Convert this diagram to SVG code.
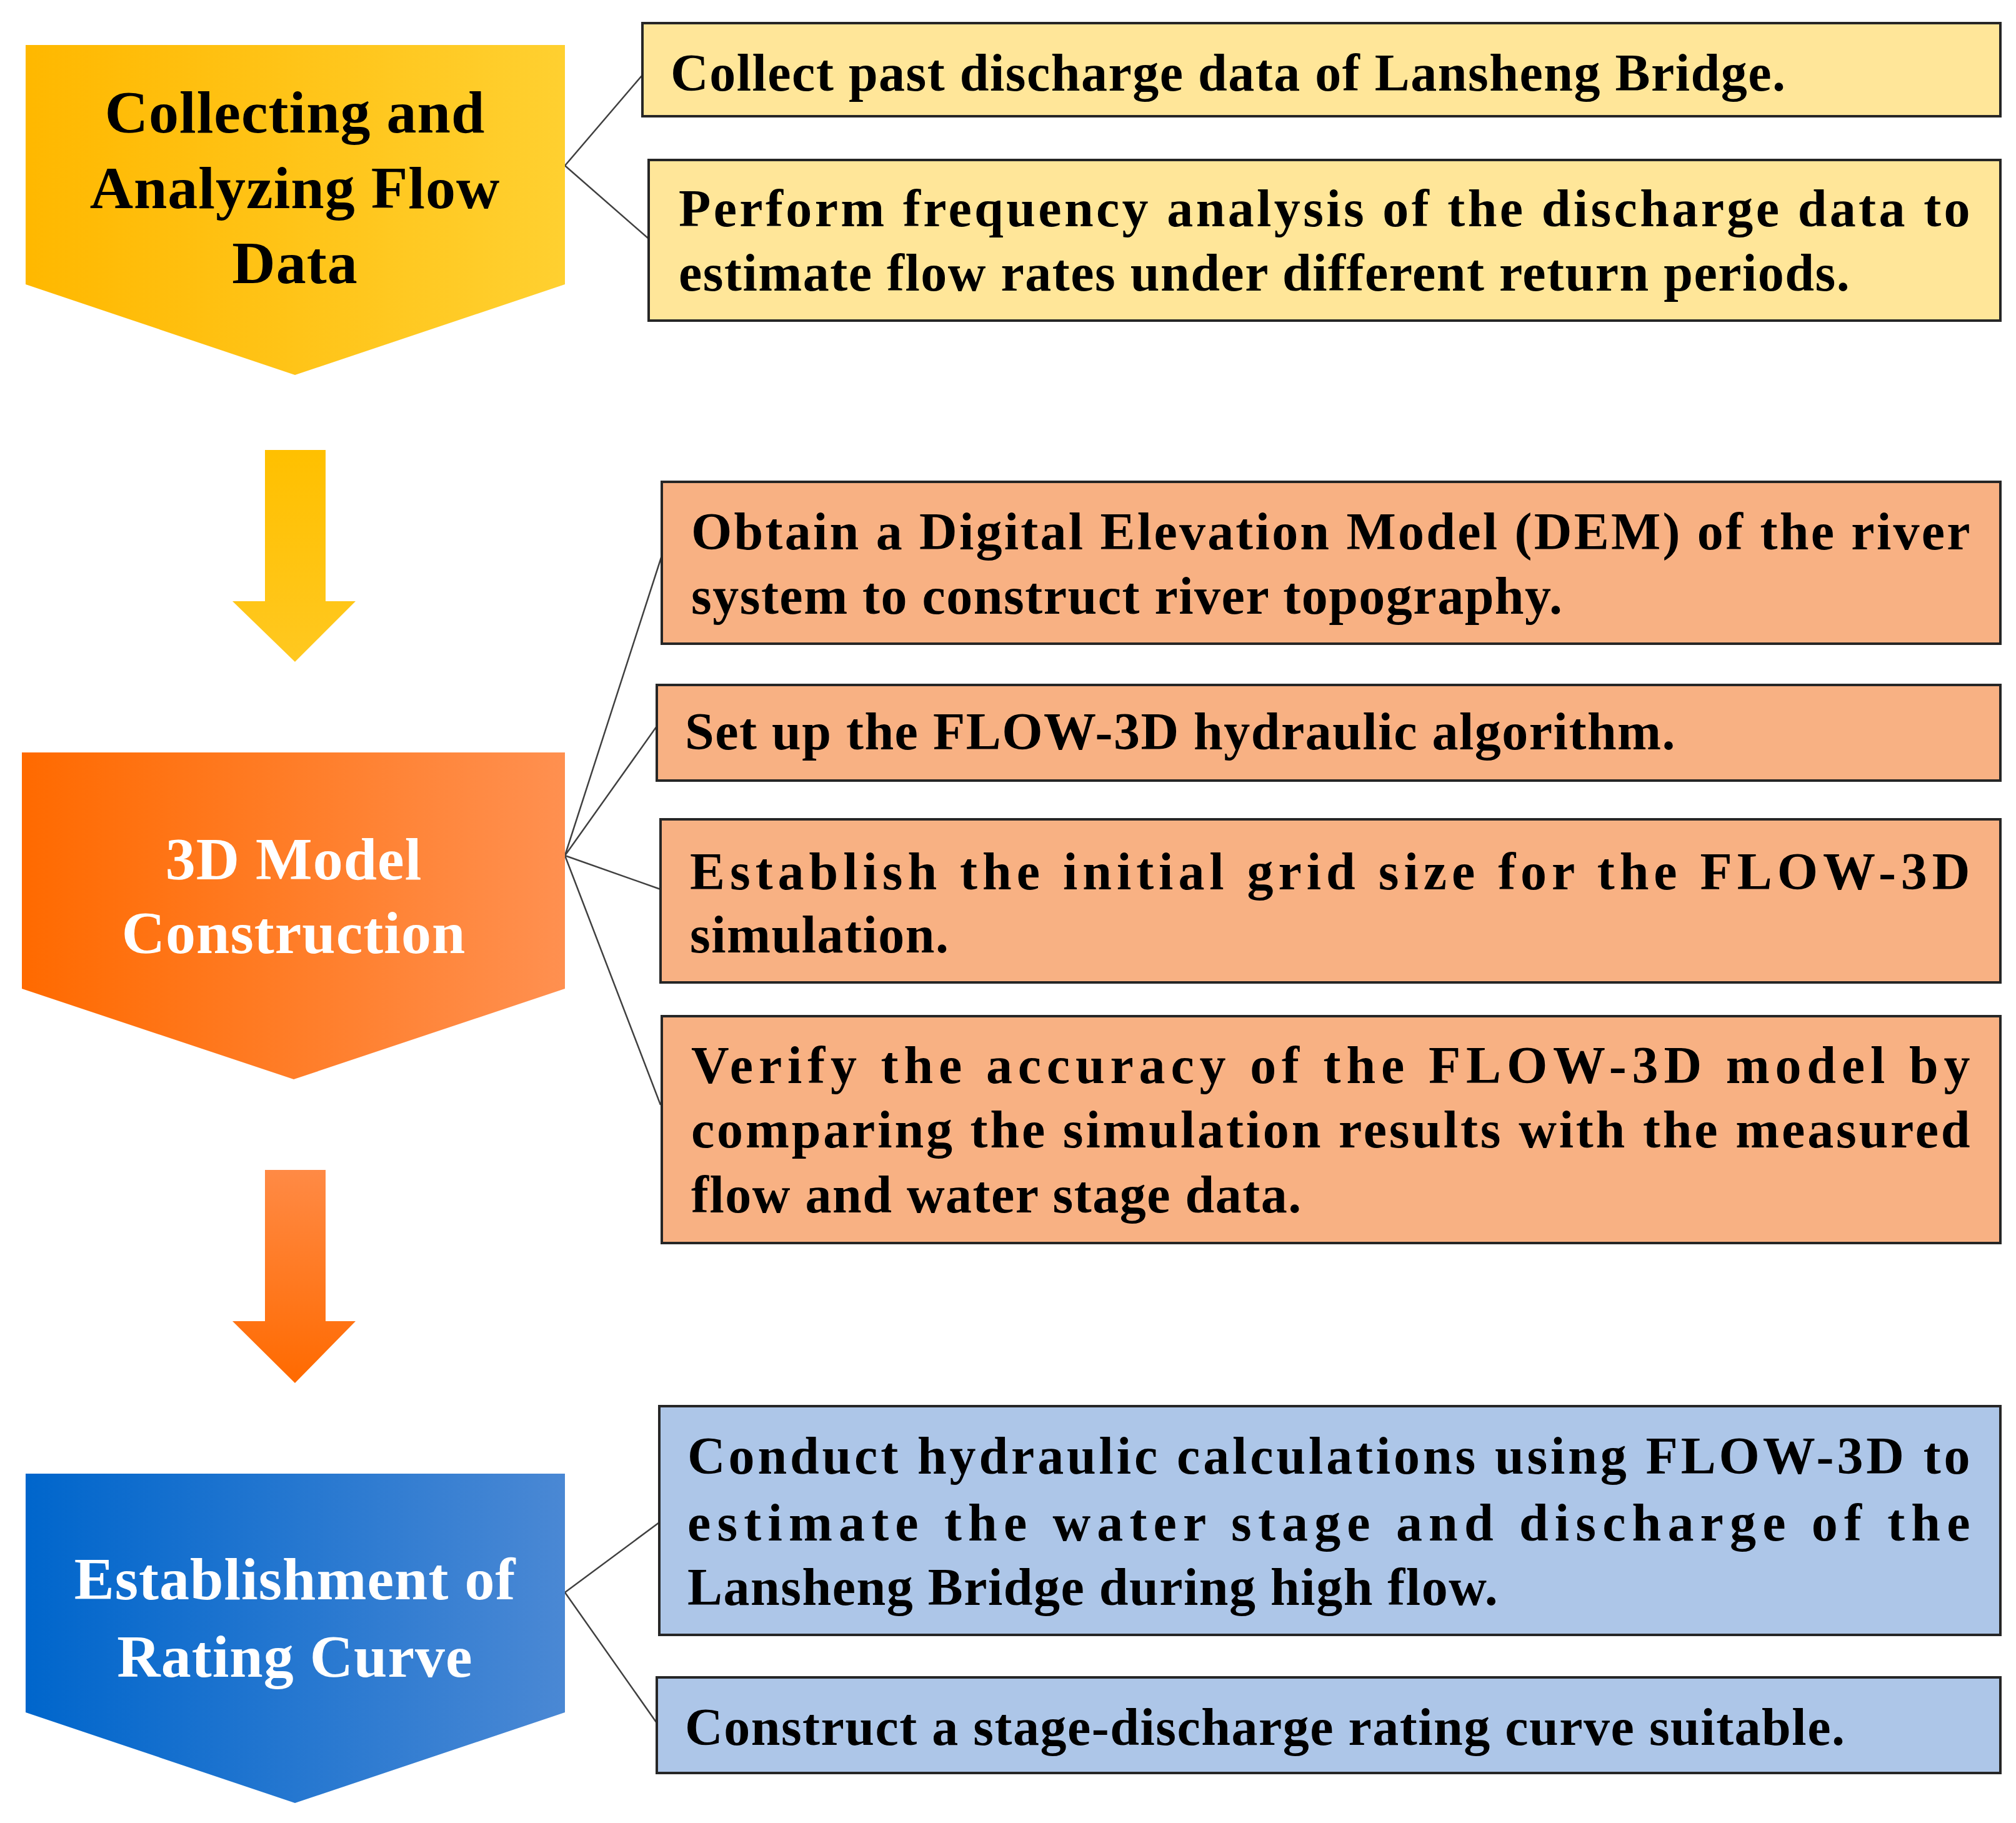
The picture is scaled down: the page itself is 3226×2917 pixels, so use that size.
<svg xmlns="http://www.w3.org/2000/svg" width="3226" height="2917" viewBox="0 0 3226 2917">
<defs>
<linearGradient id="gy" x1="0" y1="0" x2="1" y2="0"><stop offset="0" stop-color="#FFB800"/><stop offset="1" stop-color="#FFD030"/></linearGradient>
<linearGradient id="go" x1="0" y1="0" x2="1" y2="0"><stop offset="0" stop-color="#FF6A00"/><stop offset="1" stop-color="#FF9050"/></linearGradient>
<linearGradient id="gb" x1="0" y1="0" x2="1" y2="0"><stop offset="0" stop-color="#0066CC"/><stop offset="1" stop-color="#4A88D4"/></linearGradient>
<linearGradient id="ay" x1="0" y1="0" x2="0" y2="1"><stop offset="0" stop-color="#FFC000"/><stop offset="1" stop-color="#FFC820"/></linearGradient>
<linearGradient id="ao" x1="0" y1="0" x2="0" y2="1"><stop offset="0" stop-color="#FF8A45"/><stop offset="1" stop-color="#FF6A00"/></linearGradient>
</defs>
<style>
.b{stroke:#262626;stroke-width:4}
.t{font-family:"Liberation Serif",serif;font-weight:bold;font-size:84px;letter-spacing:1.5px;fill:#000}
.p{font-family:"Liberation Serif",serif;font-weight:bold;font-size:96px;letter-spacing:1px;text-anchor:middle}
.c{stroke:#404040;stroke-width:2.5;fill:none}
</style>
<g id="connectors">
<path class="c" d="M904 265L1028 120M904 265L1038 382M904 1369L1059 889M904 1369L1051 1162M904 1369L1057 1423M904 1369L1057 1768M904 2548L1055 2436M904 2548L1051 2757"/>
<path d="M424 720H521V962H569L472 1059L372 962H424Z" fill="url(#ay)"/>
<path d="M424 1872H521V2114H569L472 2213L372 2114H424Z" fill="url(#ao)"/>
</g>
<g id="p1"><path d="M41 72H904V455L472 600L41 455Z" fill="url(#gy)"/>
<text class="p" x="472" y="212">Collecting and</text><text class="p" x="472" y="333">Analyzing  Flow</text><text class="p" x="472" y="453">Data</text></g>
<g id="p2"><path d="M35 1204H904V1582L470 1727L35 1582Z" fill="url(#go)"/>
<text class="p" x="470" y="1407" fill="#fff">3D Model</text><text class="p" x="470" y="1525" fill="#fff">Construction</text></g>
<g id="p3"><path d="M41 2358H904V2740L472 2885L41 2740Z" fill="url(#gb)"/>
<text class="p" x="472" y="2559" fill="#fff">Establishment of</text><text class="p" x="472" y="2683" fill="#fff">Rating Curve</text></g>
<g id="b1"><rect class="b" x="1028" y="37" width="2173" height="149" fill="#FFE699"/>
<text class="t" x="1073" y="145">Collect past discharge data of Lansheng Bridge.</text></g>
<g id="b2"><rect class="b" x="1038" y="256" width="2163" height="257" fill="#FFE699"/>
<text class="t" x="1086" y="362" textLength="2068" lengthAdjust="spacing">Perform frequency analysis of the discharge data to</text>
<text class="t" x="1086" y="465">estimate flow rates under different return periods.</text></g>
<g id="b3"><rect class="b" x="1059" y="771" width="2142" height="259" fill="#F8B183"/>
<text class="t" x="1106" y="879" textLength="2048" lengthAdjust="spacing">Obtain a Digital Elevation Model (DEM) of the river</text>
<text class="t" x="1106" y="982">system to construct river topography.</text></g>
<g id="b4"><rect class="b" x="1051" y="1096" width="2150" height="153" fill="#F8B183"/>
<text class="t" x="1096" y="1199">Set up the FLOW-3D hydraulic algorithm.</text></g>
<g id="b5"><rect class="b" x="1057" y="1311" width="2144" height="261" fill="#F8B183"/>
<text class="t" x="1104" y="1423" textLength="2050" lengthAdjust="spacing">Establish the initial grid size for the FLOW-3D</text>
<text class="t" x="1104" y="1524">simulation.</text></g>
<g id="b6"><rect class="b" x="1059" y="1626" width="2142" height="363" fill="#F8B183"/>
<text class="t" x="1106" y="1733" textLength="2048" lengthAdjust="spacing">Verify the accuracy of the FLOW-3D model by</text>
<text class="t" x="1106" y="1836" textLength="2048" lengthAdjust="spacing">comparing the simulation results with the measured</text>
<text class="t" x="1106" y="1940">flow and water stage data.</text></g>
<g id="b7"><rect class="b" x="1055" y="2250" width="2146" height="366" fill="#ADC6E8"/>
<text class="t" x="1100" y="2358" textLength="2054" lengthAdjust="spacing">Conduct hydraulic calculations using FLOW-3D to</text>
<text class="t" x="1100" y="2465" textLength="2054" lengthAdjust="spacing">estimate the water stage and discharge of the</text>
<text class="t" x="1100" y="2568">Lansheng Bridge during high flow.</text></g>
<g id="b8"><rect class="b" x="1051" y="2684" width="2150" height="153" fill="#ADC6E8"/>
<text class="t" x="1096" y="2792">Construct a stage-discharge rating curve suitable.</text></g>
</svg>
